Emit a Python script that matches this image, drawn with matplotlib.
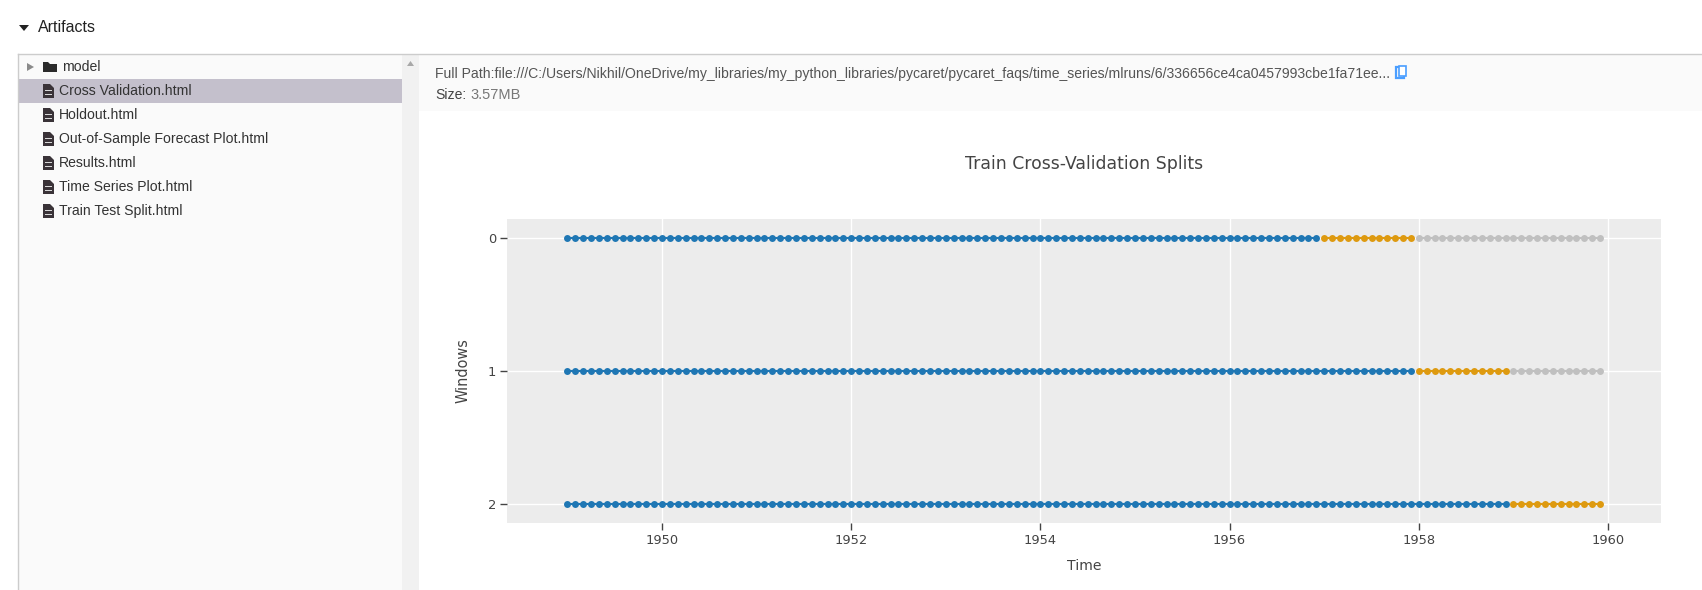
import matplotlib
import numpy as np

matplotlib.use("Agg")
import matplotlib.pyplot as plt
from matplotlib.patches import Polygon, Rectangle

WIDTH = 1702
HEIGHT = 590

window_labels = [0, 1, 2]
train_months = [96, 108, 120]
test_months = [12, 12, 12]
total_months = 132
first_year = 1949
x_ticks = [1950, 1952, 1954, 1956, 1958, 1960]

tree_items = [
    "Cross Validation.html",
    "Holdout.html",
    "Out-of-Sample Forecast Plot.html",
    "Results.html",
    "Time Series Plot.html",
    "Train Test Split.html",
]
full_path = (
    "Full Path:file:///C:/Users/Nikhil/OneDrive/my_libraries/my_python_libraries/pycaret/"
    "pycaret_faqs/time_series/mlruns/6/336656ce4ca0457993cbe1fa71ee..."
)
size_label = "Size:"
size_value = "3.57MB"

TRAIN_COLOR = "#1f77b4"
TEST_COLOR = "#de9a10"
REST_COLOR = "#c0c0c0"
UI_FONT = "Liberation Sans"
CHART_FONT = "DejaVu Sans"


def px(size: float) -> float:
    return size * 72 / 100


def draw_file_icon(ui, x: float, y: float) -> None:
    ui.add_patch(Polygon(
        [(x, y), (x + 7, y), (x + 11, y + 4), (x + 11, y + 14), (x, y + 14)],
        closed=True, facecolor="#3a3338", edgecolor="none",
    ))
    ui.add_patch(Rectangle((x + 2, y + 6), 7, 1.2, facecolor="#d8d8d8", edgecolor="none"))
    ui.add_patch(Rectangle((x + 2, y + 9.5), 7, 1.2, facecolor="#d8d8d8", edgecolor="none"))


def draw_page(ui) -> None:
    ui.add_patch(Polygon([(19, 25), (29, 25), (24, 31)], closed=True, facecolor="#222222", edgecolor="none"))
    ui.text(38, 28, "Artifacts", fontsize=px(16), family=UI_FONT, color="#222222", va="center")

    # tree panel, scrollbar and header of the preview pane
    ui.add_patch(Rectangle((18, 54), 384, 536, facecolor="#fafafa", edgecolor="none"))
    ui.add_patch(Rectangle((402, 55), 17, 535, facecolor="#f1f1f1", edgecolor="none"))
    ui.add_patch(Rectangle((419, 55), WIDTH - 419, 56, facecolor="#fafafa", edgecolor="none"))
    ui.plot([18, WIDTH], [54, 54], color="#cccccc", lw=1)
    ui.plot([18, 18], [54, HEIGHT], color="#cccccc", lw=1)
    ui.add_patch(Polygon([(407, 66), (414, 66), (410.5, 61)], closed=True, facecolor="#a8a8a8", edgecolor="none"))

    ui.add_patch(Polygon([(27, 63), (27, 71), (34, 67)], closed=True, facecolor="#8a8a8a", edgecolor="none"))
    ui.add_patch(Polygon(
        [(43, 62), (48, 62), (50, 64), (57, 64), (57, 72), (43, 72)],
        closed=True, facecolor="#2b2b2b", edgecolor="none",
    ))
    ui.text(62, 67, "model", fontsize=px(14), family=UI_FONT, color="#333333", va="center")

    ui.add_patch(Rectangle((18, 79), 384, 24, facecolor="#c4c0cc", edgecolor="none"))
    for index, name in enumerate(tree_items):
        row_y = 91 + 24 * index
        draw_file_icon(ui, 43, row_y - 7)
        ui.text(59, row_y, name, fontsize=px(14), family=UI_FONT, color="#333333", va="center")

    ui.text(435, 74, full_path, fontsize=px(14), family=UI_FONT, color="#555555", va="center")
    ui.text(435, 95, size_label, fontsize=px(14), family=UI_FONT, color="#444444", va="center")
    ui.text(470, 95, size_value, fontsize=px(14.5), family=UI_FONT, color="#777777", va="center")

    ui.add_patch(Rectangle((1396, 67), 8, 11, facecolor="none", edgecolor="#4a9eff", lw=1.6))
    ui.add_patch(Rectangle((1399, 66), 7, 10, facecolor="white", edgecolor="#4a9eff", lw=1.2))


def draw_chart(axis) -> None:
    years = first_year + np.arange(total_months) / 12
    for window, train, test in zip(window_labels, train_months, test_months):
        stops = [(0, train, TRAIN_COLOR), (train, train + test, TEST_COLOR), (train + test, total_months, REST_COLOR)]
        for start, stop, color in stops:
            if stop <= start:
                continue
            axis.plot(
                years[start:stop],
                np.full(stop - start, window),
                color=color,
                lw=1.5,
                marker="o",
                markersize=5.0,
                markeredgewidth=0,
                clip_on=False,
                zorder=3,
            )

    axis.set_facecolor("#ececec")
    axis.set_xlim(1950 + (507 - 662) / 94.6, 1950 + (1661 - 662) / 94.6)
    axis.set_ylim(2 + 19 / 133, -19 / 133)
    axis.set_xticks(x_ticks)
    axis.set_yticks(window_labels)
    axis.grid(True, color="white", lw=1)
    axis.set_axisbelow(True)
    for spine in axis.spines.values():
        spine.set_visible(False)
    axis.tick_params(axis="both", length=5, width=1, color="#444444", labelcolor="#444444", labelsize=px(13), pad=3)
    for label in axis.get_xticklabels() + axis.get_yticklabels():
        label.set_family(CHART_FONT)
    axis.set_xlabel("Time", fontsize=px(14), color="#444444", family=CHART_FONT, labelpad=8.5)
    axis.set_ylabel("Windows", fontsize=px(14.5), color="#444444", family=CHART_FONT, labelpad=12)


def main() -> None:
    figure = plt.figure(figsize=(WIDTH / 100, HEIGHT / 100), dpi=100, facecolor="white")

    ui = figure.add_axes([0, 0, 1, 1])
    ui.set_xlim(0, WIDTH)
    ui.set_ylim(HEIGHT, 0)
    ui.axis("off")
    draw_page(ui)
    ui.text(1084, 164, "Train Cross-Validation Splits", fontsize=px(17.3), family=CHART_FONT,
            color="#444444", ha="center", va="center")

    axis = figure.add_axes([507 / WIDTH, (HEIGHT - 523) / HEIGHT, (1661 - 507) / WIDTH, (523 - 219) / HEIGHT])
    draw_chart(axis)

    figure.savefig("out.png", dpi=100)
    plt.close(figure)


if __name__ == "__main__":
    main()
